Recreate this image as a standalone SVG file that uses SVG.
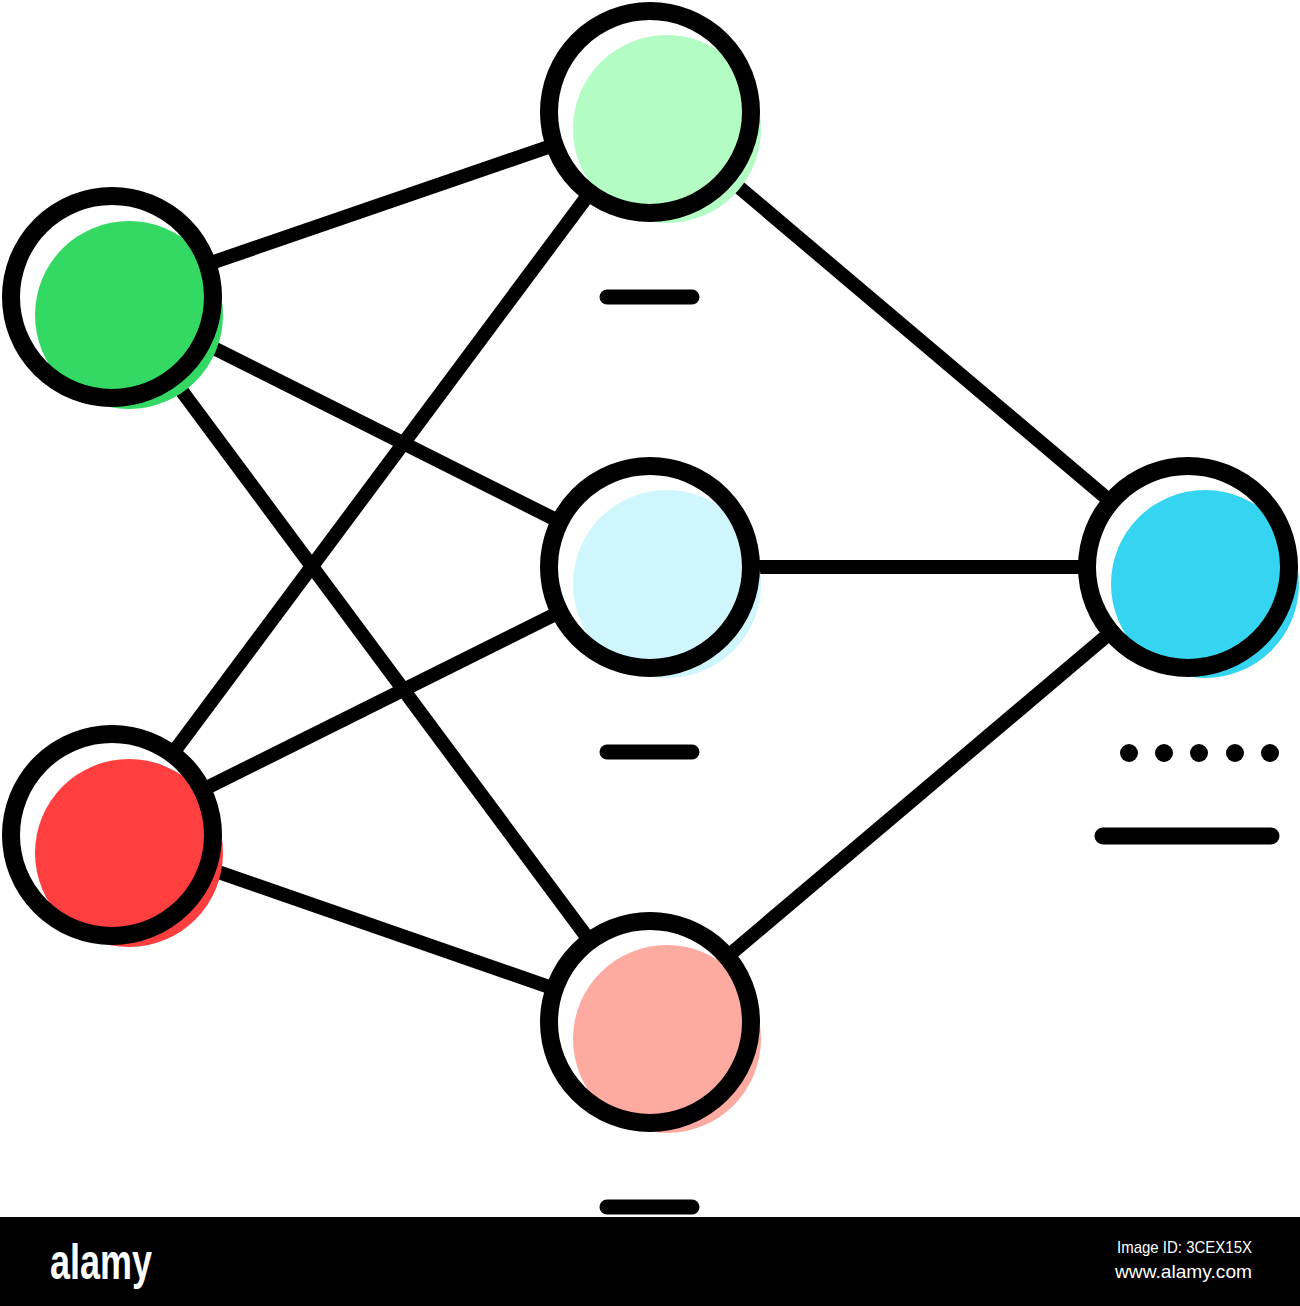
<svg xmlns="http://www.w3.org/2000/svg" width="1300" height="1306" viewBox="0 0 1300 1306">
<style>
.edge{stroke:#000;stroke-width:14;stroke-linecap:round;fill:none}
.ring{fill:none;stroke:#000;stroke-width:18}
.bg{fill:#fff}
.dash{stroke:#000;stroke-width:15;stroke-linecap:round}
.bar{font-family:"Liberation Sans",Arial,sans-serif;fill:#fff}
</style>
<rect width="1300" height="1306" fill="#fff"/>
<g id="connectors">
<line class="edge" x1="112" y1="297" x2="650" y2="112"/>
<line class="edge" x1="112" y1="297" x2="650" y2="567"/>
<line class="edge" x1="112" y1="297" x2="650" y2="1022"/>
<line class="edge" x1="112" y1="835" x2="650" y2="112"/>
<line class="edge" x1="112" y1="835" x2="650" y2="567"/>
<line class="edge" x1="112" y1="835" x2="650" y2="1022"/>
<line class="edge" x1="650" y1="112" x2="1188" y2="567"/>
<line class="edge" x1="650" y1="567" x2="1188" y2="567"/>
<line class="edge" x1="650" y1="1022" x2="1188" y2="567"/>
</g>
<g id="node-input-1">
<circle class="bg" cx="112" cy="297" r="101"/>
<circle cx="129" cy="315" r="94" fill="#33d962"/>
<circle class="ring" cx="112" cy="297" r="101"/>
</g>
<g id="node-input-2">
<circle class="bg" cx="112" cy="835" r="101"/>
<circle cx="129" cy="853" r="94" fill="#ff3f3f"/>
<circle class="ring" cx="112" cy="835" r="101"/>
</g>
<g id="node-hidden-1">
<circle class="bg" cx="650" cy="112" r="101"/>
<circle cx="667" cy="129" r="94" fill="#b3fcc4"/>
<circle class="ring" cx="650" cy="112" r="101"/>
<line class="dash" x1="607" y1="297" x2="692" y2="297"/>
</g>
<g id="node-hidden-2">
<circle class="bg" cx="650" cy="567" r="101"/>
<circle cx="667" cy="584" r="94" fill="#d0f6fd"/>
<circle class="ring" cx="650" cy="567" r="101"/>
<line class="dash" x1="607" y1="752" x2="692" y2="752"/>
</g>
<g id="node-hidden-3">
<circle class="bg" cx="650" cy="1022" r="101"/>
<circle cx="667" cy="1039" r="94" fill="#fdaba1"/>
<circle class="ring" cx="650" cy="1022" r="101"/>
<line class="dash" x1="607" y1="1207" x2="692" y2="1207"/>
</g>
<g id="node-output">
<circle class="bg" cx="1188" cy="567" r="101"/>
<circle cx="1205" cy="584" r="94" fill="#35d5f2"/>
<circle class="ring" cx="1188" cy="567" r="101"/>
<g fill="#000">
<circle cx="1129" cy="753" r="9"/>
<circle cx="1164" cy="753" r="9"/>
<circle cx="1199" cy="753" r="9"/>
<circle cx="1235" cy="753" r="9"/>
<circle cx="1270" cy="753" r="9"/>
</g>
<line x1="1103" y1="836" x2="1271" y2="836" stroke="#000" stroke-width="17" stroke-linecap="round"/>
</g>
<g id="watermark-bar">
<rect x="0" y="1217" width="1300" height="89" fill="#000"/>
<text class="bar" x="50" y="1279" font-size="50" font-weight="bold" textLength="102" lengthAdjust="spacingAndGlyphs">alamy</text>
<text class="bar" x="1117" y="1253" font-size="17" textLength="135" lengthAdjust="spacingAndGlyphs">Image ID: 3CEX15X</text>
<text class="bar" x="1115" y="1278" font-size="19" textLength="137" lengthAdjust="spacingAndGlyphs">www.alamy.com</text>
</g>
</svg>
